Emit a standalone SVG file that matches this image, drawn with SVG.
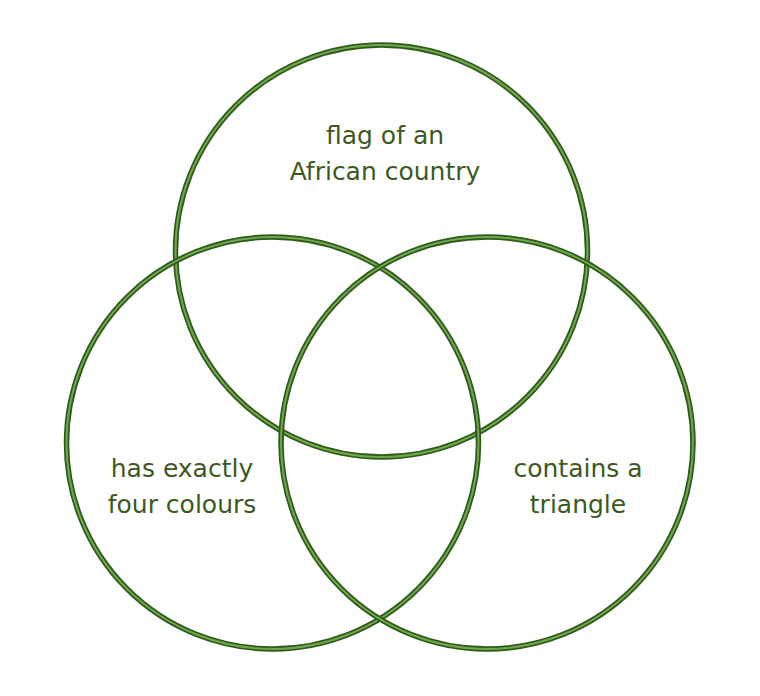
<svg xmlns="http://www.w3.org/2000/svg" width="760" height="696" viewBox="0 0 760 696">
<style>
.outer{fill:none;stroke:#2f5a1c;stroke-width:5.5}
.inner{fill:none;stroke:#6fa84a;stroke-width:2}
.lbl{font-family:"DejaVu Sans",Verdana,sans-serif;font-size:25px;fill:#3d5a1e;text-anchor:middle}
</style>
<rect width="760" height="696" fill="#ffffff"/>
<g id="set-africa">
<circle class="outer" cx="381.5" cy="251" r="206"/>
<circle class="inner" cx="381.5" cy="251" r="206"/>
<text class="lbl" x="385" y="144">flag of an</text>
<text class="lbl" x="385" y="180">African country</text>
</g>
<g id="set-four-colours">
<circle class="outer" cx="272.5" cy="443" r="206"/>
<circle class="inner" cx="272.5" cy="443" r="206"/>
<text class="lbl" x="182" y="477">has exactly</text>
<text class="lbl" x="182" y="513">four colours</text>
</g>
<g id="set-triangle">
<circle class="outer" cx="487" cy="443" r="206"/>
<circle class="inner" cx="487" cy="443" r="206"/>
<text class="lbl" x="578" y="477">contains a</text>
<text class="lbl" x="578" y="513">triangle</text>
</g>
<g id="connectors"></g>
</svg>
